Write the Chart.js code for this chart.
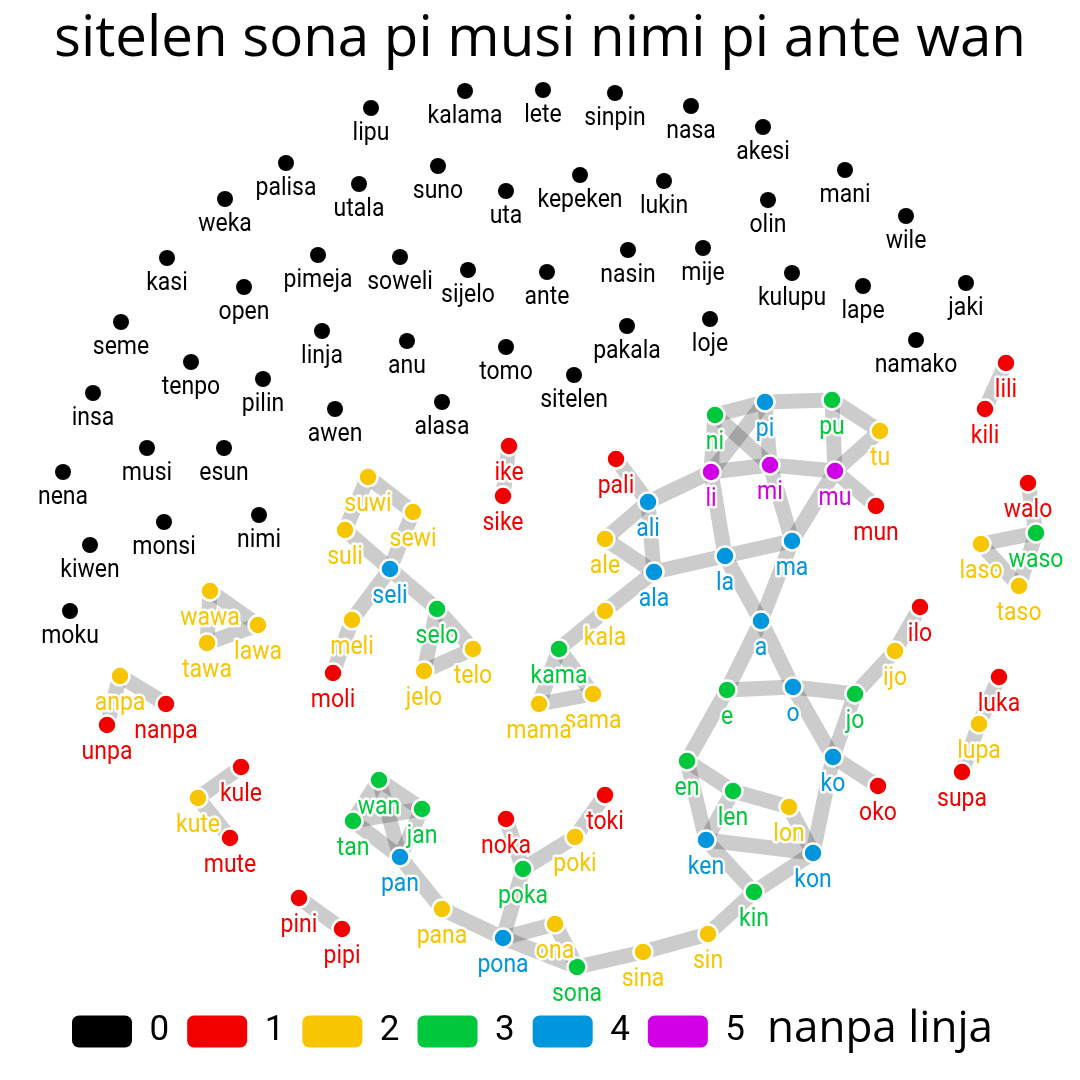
<!DOCTYPE html>
<html>
<head>
<meta charset="utf-8">
<title>sitelen sona pi musi nimi pi ante wan</title>
<script src="https://cdn.jsdelivr.net/npm/chart.js@4.4.1/dist/chart.umd.min.js"></script>
<style>
  html, body { margin: 0; padding: 0; background: #fff; }
  #wrap { width: 1080px; height: 1080px; }
</style>
</head>
<body>
<div id="wrap"><canvas id="nimiChart"></canvas></div>
<script>
// nimi and where they sit in the picture (x, y)
const words = [
  'lipu', 'kalama', 'lete', 'sinpin', 'nasa', 'akesi', 'palisa', 'utala', 'suno', 'uta',
  'kepeken', 'lukin', 'olin', 'mani', 'wile', 'weka', 'kasi', 'pimeja', 'soweli', 'sijelo',
  'ante', 'nasin', 'mije', 'kulupu', 'lape', 'jaki', 'open', 'seme', 'linja', 'anu',
  'tomo', 'pakala', 'loje', 'namako', 'sitelen', 'tenpo', 'pilin', 'insa', 'awen', 'alasa',
  'musi', 'esun', 'nena', 'monsi', 'nimi', 'kiwen', 'moku',
  'lili', 'kili', 'ike', 'sike', 'pali', 'suwi', 'sewi', 'suli', 'seli', 'meli',
  'moli', 'selo', 'telo', 'jelo', 'ali', 'ale', 'ala', 'kala', 'kama', 'sama',
  'mama', 'ni', 'pi', 'pu', 'tu', 'li', 'mi', 'mu', 'mun', 'la',
  'ma', 'a', 'e', 'o', 'jo', 'ijo', 'ilo', 'ko', 'oko', 'en',
  'len', 'lon', 'ken', 'kon', 'kin', 'sin', 'sina', 'sona', 'ona', 'pona',
  'poka', 'noka', 'poki', 'toki', 'pana', 'pan', 'wan', 'jan', 'tan', 'pipi',
  'pini', 'kule', 'kute', 'mute', 'anpa', 'nanpa', 'unpa', 'wawa', 'lawa', 'tawa',
  'walo', 'waso', 'laso', 'taso', 'luka', 'lupa', 'supa'
];
const wordX = [
  371, 465, 543, 615, 691, 763, 286, 359, 438, 506,
  580, 664, 768, 845, 906, 225, 167, 318, 400, 468,
  547, 628, 703, 792, 863, 966, 244, 121, 322, 407,
  506, 627, 710, 916, 574, 191, 263, 93, 335, 442,
  147, 224, 63, 164, 259, 90, 70,
  1006, 985, 509, 503, 616, 368, 413, 345, 390, 352,
  333, 437, 473, 424, 648, 605, 654, 605, 559, 593,
  539, 715, 765, 832, 880, 711, 770, 835, 876, 725,
  792, 761, 727, 793, 855, 895, 920, 833, 878, 687,
  733, 789, 706, 813, 754, 708, 643, 577, 555, 503,
  523, 506, 575, 605, 442, 400, 379, 422, 353, 342,
  299, 241, 198, 230, 120, 166, 107, 210, 258, 207,
  1028, 1036, 981, 1019, 999, 979, 962
];
const wordY = [
  108, 91, 90, 93, 106, 127, 163, 184, 166, 191,
  175, 181, 200, 170, 216, 199, 258, 255, 257, 270,
  272, 250, 248, 273, 286, 283, 287, 322, 331, 341,
  347, 326, 319, 340, 375, 362, 379, 393, 409, 402,
  448, 448, 472, 522, 515, 545, 611,
  363, 409, 446, 496, 459, 477, 512, 530, 569, 620,
  673, 609, 649, 671, 502, 539, 572, 611, 649, 694,
  704, 415, 402, 400, 431, 472, 465, 471, 506, 556,
  541, 621, 690, 687, 694, 651, 607, 757, 786, 761,
  791, 807, 840, 853, 892, 934, 952, 967, 924, 938,
  869, 819, 837, 795, 909, 857, 780, 809, 821, 929,
  898, 767, 798, 838, 676, 704, 725, 591, 625, 643,
  483, 533, 544, 586, 677, 724, 772
];

// linja: which nimi are joined
const links = [
  ['lili', 'kili'], ['ike', 'sike'], ['pali', 'ali'],
  ['suwi', 'sewi'], ['suwi', 'suli'], ['sewi', 'seli'], ['suli', 'seli'], ['seli', 'meli'],
  ['seli', 'selo'], ['meli', 'moli'], ['selo', 'jelo'], ['selo', 'telo'], ['jelo', 'telo'],
  ['ali', 'ale'], ['ali', 'ala'], ['ali', 'li'], ['ale', 'ala'], ['ala', 'kala'], ['ala', 'la'],
  ['kala', 'kama'], ['kama', 'mama'], ['kama', 'sama'], ['mama', 'sama'],
  ['ni', 'pi'], ['ni', 'li'], ['ni', 'mi'], ['pi', 'pu'], ['pi', 'li'], ['pi', 'mi'],
  ['pu', 'tu'], ['pu', 'mu'], ['tu', 'mu'], ['li', 'mi'], ['li', 'la'], ['mi', 'mu'],
  ['mi', 'ma'], ['mu', 'mun'], ['mu', 'ma'], ['la', 'ma'], ['la', 'a'], ['ma', 'a'],
  ['a', 'e'], ['a', 'o'], ['e', 'o'], ['e', 'en'], ['o', 'jo'], ['o', 'ko'],
  ['jo', 'ijo'], ['jo', 'ko'], ['ijo', 'ilo'], ['ko', 'oko'], ['ko', 'kon'],
  ['en', 'len'], ['en', 'ken'], ['len', 'lon'], ['len', 'ken'], ['lon', 'kon'],
  ['ken', 'kon'], ['ken', 'kin'], ['kon', 'kin'], ['kin', 'sin'], ['sin', 'sina'],
  ['sina', 'sona'], ['sona', 'ona'], ['sona', 'pona'], ['pona', 'ona'], ['pona', 'poka'],
  ['pona', 'pana'], ['poka', 'noka'], ['poka', 'poki'], ['poki', 'toki'], ['pana', 'pan'],
  ['pan', 'wan'], ['pan', 'tan'], ['pan', 'jan'], ['wan', 'jan'], ['wan', 'tan'], ['tan', 'jan'],
  ['pini', 'pipi'], ['kule', 'kute'], ['kute', 'mute'], ['anpa', 'nanpa'], ['anpa', 'unpa'],
  ['wawa', 'lawa'], ['wawa', 'tawa'], ['tawa', 'lawa'],
  ['walo', 'waso'], ['waso', 'laso'], ['waso', 'taso'], ['laso', 'taso'],
  ['luka', 'lupa'], ['lupa', 'supa']
];

// nanpa linja -> colour
const degreeLabels = ['0', '1', '2', '3', '4', '5'];
const degreeColors = ['#000000', '#f20000', '#f7c600', '#00c83c', '#0096dd', '#cf00e6'];

const degree = words.map(w => links.filter(l => l.includes(w)).length);
const pos = w => {
  const i = words.indexOf(w);
  return { x: wordX[i], y: wordY[i] };
};

// keep data in picture pixels: pin scale ranges to the chart area after layout
const pixelScales = {
  id: 'pixelScales',
  afterLayout(chart) {
    const a = chart.chartArea;
    const { x, y } = chart.scales;
    x.min = a.left; x.max = a.right; x.configure();
    y.min = a.top; y.max = a.bottom; y.configure();
  }
};

// word labels under each point, with white halo
const wordLabels = {
  id: 'wordLabels',
  afterDatasetsDraw(chart) {
    const meta = chart.getDatasetMeta(0);
    const ctx = chart.ctx;
    ctx.save();
    ctx.font = '25px Roboto';
    ctx.textAlign = 'center';
    ctx.textBaseline = 'alphabetic';
    ctx.lineJoin = 'round';
    meta.data.forEach((pt, i) => {
      const d = degree[i];
      ctx.save();
      ctx.translate(pt.x, pt.y + (d ? 34 : 32));
      ctx.scale(0.92, 1);
      if (d) {
        ctx.lineWidth = 5;
        ctx.strokeStyle = '#fff';
        ctx.strokeText(words[i], 0, 0);
      }
      ctx.fillStyle = degreeColors[d];
      ctx.fillText(words[i], 0, 0);
      ctx.restore();
    });
    ctx.restore();
  }
};

// "nanpa linja" after the legend boxes
const legendTitle = {
  id: 'legendTitle',
  afterDraw(chart) {
    const boxes = chart.legend.legendHitBoxes;
    if (!boxes || !boxes.length) return;
    const last = boxes[boxes.length - 1];
    const ctx = chart.ctx;
    ctx.save();
    ctx.font = '44px "Open Sans"';
    ctx.fillStyle = '#000';
    ctx.textBaseline = 'middle';
    ctx.fillText('nanpa linja', last.left + last.width + 22, last.top + last.height / 2 - 2);
    ctx.restore();
  }
};

const edgeSets = links.map(([a, b]) => ({
  label: a + ' - ' + b,
  data: [pos(a), pos(b)],
  showLine: true,
  borderColor: 'rgba(0,0,0,0.2)',
  borderWidth: 15,
  borderCapStyle: 'butt',
  pointRadius: 0,
  pointHoverRadius: 0,
  clip: false,
  order: 1
}));

const ctx = document.getElementById('nimiChart').getContext('2d');
new Chart(ctx, {
  type: 'scatter',
  data: {
    datasets: [{
      label: 'nimi',
      data: words.map(w => pos(w)),
      pointRadius: degree.map(d => d ? 9.5 : 8),
      pointHoverRadius: degree.map(d => d ? 9.5 : 8),
      pointBorderWidth: degree.map(d => d ? 2.5 : 0),
      pointBackgroundColor: degree.map(d => degreeColors[d]),
      pointBorderColor: '#fff',
      clip: false,
      order: 0
    }, ...edgeSets]
  },
  options: {
    responsive: true,
    maintainAspectRatio: false,
    animation: false,
    events: [],
    layout: { padding: { left: 54, right: 54, bottom: 21 } },
    scales: {
      x: { type: 'linear', display: false },
      y: { type: 'linear', display: false, reverse: true }
    },
    plugins: {
      title: {
        display: true,
        text: 'sitelen sona pi musi nimi pi ante wan',
        color: '#000',
        font: { family: 'Open Sans', size: 57, weight: 'normal' },
        padding: { top: 6, bottom: 4 }
      },
      legend: {
        position: 'bottom',
        align: 'start',
        onClick: null,
        labels: {
          boxWidth: 60,
          boxHeight: 32,
          useBorderRadius: true,
          borderRadius: 7,
          padding: 18,
          color: '#000',
          font: { family: 'Roboto', size: 35 },
          generateLabels: () => degreeLabels.map((t, i) => ({
            text: t,
            fillStyle: degreeColors[i],
            strokeStyle: degreeColors[i],
            lineWidth: 0,
            borderRadius: 7,
            hidden: false
          }))
        }
      },
      tooltip: { enabled: false }
    }
  },
  plugins: [pixelScales, wordLabels, legendTitle]
});
</script>
</body>
</html>
